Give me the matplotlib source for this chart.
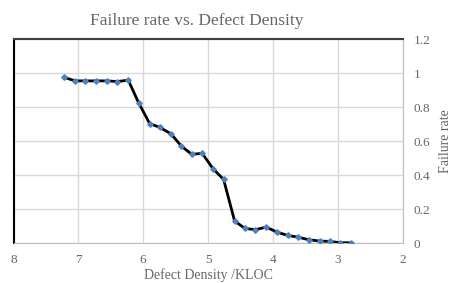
import matplotlib.pyplot as plt

plt.rcParams['font.family'] = ['Liberation Serif', 'DejaVu Serif']

density = [7.22, 7.05, 6.89, 6.73, 6.56, 6.40, 6.23, 6.07, 5.90, 5.74,
           5.57, 5.41, 5.25, 5.09, 4.92, 4.76, 4.59, 4.43, 4.27, 4.10,
           3.94, 3.77, 3.61, 3.45, 3.28, 3.12, 2.96, 2.79]
failure = [0.975, 0.954, 0.954, 0.954, 0.954, 0.950, 0.958, 0.825, 0.703, 0.680,
           0.642, 0.570, 0.522, 0.528, 0.436, 0.375, 0.130, 0.086, 0.079, 0.094,
           0.065, 0.045, 0.035, 0.020, 0.012, 0.010, 0.002, 0.002]
xticks = [8, 7, 6, 5, 4, 3, 2]
yticks = [0, 0.2, 0.4, 0.6, 0.8, 1, 1.2]
ytick_labels = ['0', '0.2', '0.4', '0.6', '0.8', '1', '1.2']

grey = '#666666'

fig = plt.figure(figsize=(4.74, 2.83), dpi=100)
ax = fig.add_axes([0.0285, 0.141, 0.8207, 0.721])

ax.plot(density, failure, color='black', lw=2, zorder=3)
ax.plot(density, failure, ls='none', marker='D', ms=2.8, color='#4f81bd', zorder=4)

ax.set_xlim(8, 2)
ax.set_ylim(0, 1.2)
ax.set_xticks(xticks)
ax.set_yticks(yticks)
ax.set_yticklabels(ytick_labels)
ax.yaxis.tick_right()
ax.yaxis.set_label_position('right')
ax.grid(True, color='#d9d9d9', lw=1)
ax.set_axisbelow(True)
ax.tick_params(length=0, labelsize=9.5, labelcolor=grey)
ax.tick_params(axis='y', pad=8)
ax.tick_params(axis='x', pad=7.5)

ax.spines['left'].set_color('black')
ax.spines['left'].set_linewidth(1.5)
ax.spines['top'].set_color('#404040')
ax.spines['top'].set_linewidth(1.5)
ax.spines['right'].set_color('#bfbfbf')
ax.spines['bottom'].set_color('#bfbfbf')

ax.set_xlabel('Defect Density /KLOC', fontsize=10, color=grey, labelpad=2)
ax.set_ylabel('Failure rate', fontsize=10, color=grey, labelpad=6)

fig.text(0.416, 0.926, 'Failure rate vs. Defect Density', ha='center', va='center',
         fontsize=12.5, color=grey)

fig.savefig('out.png', dpi=100)
